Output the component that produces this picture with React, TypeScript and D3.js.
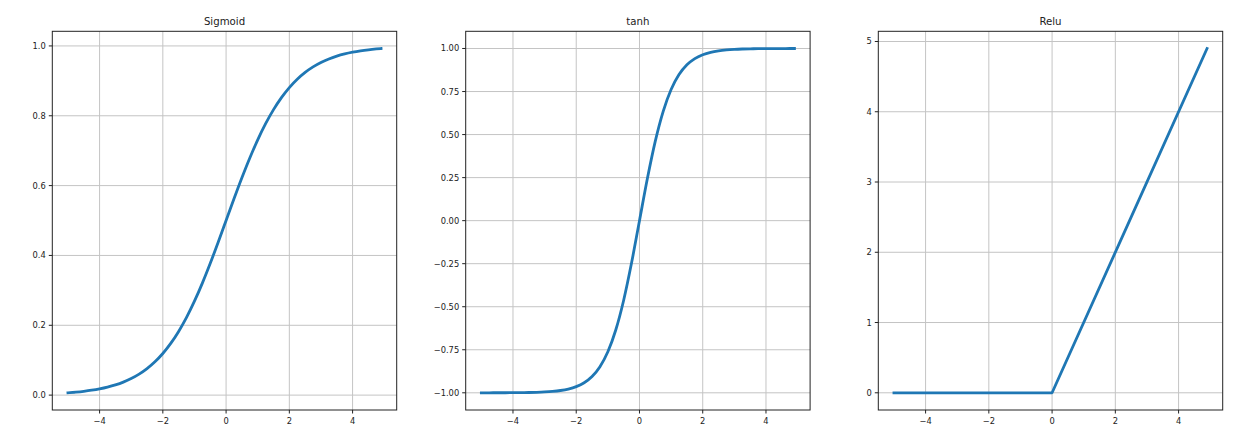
import React from "react";
import * as d3 from "d3";

const xGrid = [
  -5, -4.75, -4.5, -4.25, -4, -3.75, -3.5, -3.25, -3, -2.75, -2.5, -2.25, -2, -1.75, -1.5, -1.25, -1, -0.75, -0.5, -0.25,
  0, 0.25, 0.5, 0.75, 1, 1.25, 1.5, 1.75, 2, 2.25, 2.5, 2.75, 3, 3.25, 3.5, 3.75, 4, 4.25, 4.5, 4.75, 4.9,
];

const sigmoidValues = [
  0.00669, 0.00858, 0.01099, 0.01406, 0.01799, 0.02298, 0.02931, 0.03732, 0.04743, 0.06009, 0.07586, 0.09535, 0.1192,
  0.14805, 0.18243, 0.2227, 0.26894, 0.32082, 0.37754, 0.43782, 0.5, 0.56218, 0.62246, 0.67918, 0.73106, 0.7773,
  0.81757, 0.85195, 0.8808, 0.90465, 0.92414, 0.93991, 0.95257, 0.96268, 0.97069, 0.97702, 0.98201, 0.98594, 0.98901,
  0.99142, 0.99261,
];

const tanhValues = [
  -0.99991, -0.99985, -0.99975, -0.99959, -0.99933, -0.99889, -0.99818, -0.997, -0.99505, -0.99186, -0.98661, -0.97803,
  -0.96403, -0.94138, -0.90515, -0.84828, -0.76159, -0.63515, -0.46212, -0.24492, 0, 0.24492, 0.46212, 0.63515, 0.76159,
  0.84828, 0.90515, 0.94138, 0.96403, 0.97803, 0.98661, 0.99186, 0.99505, 0.997, 0.99818, 0.99889, 0.99933, 0.99959,
  0.99975, 0.99985, 0.99989,
];

const reluX = [-5, -2.5, 0, 2.5, 4.9];
const reluValues = [0, 0, 0, 2.5, 4.9];

const xTicks = [-4, -2, 0, 2, 4];
const sigmoidTicks = [0, 0.2, 0.4, 0.6, 0.8, 1.0];
const tanhTicks = [-1, -0.75, -0.5, -0.25, 0, 0.25, 0.5, 0.75, 1];
const reluTicks = [0, 1, 2, 3, 4, 5];

const titles = ["Sigmoid", "tanh", "Relu"];

const minus = (s: string) => s.replace(/-/g, "\u2212");

type PanelProps = {
  left: number;
  title: string;
  xs: number[];
  ys: number[];
  yTicks: number[];
  fmt: (v: number) => string;
  smooth: boolean;
};

const TOP = 31.3;
const BOTTOM = 410;
const WIDTH = 344.4;

function Panel({ left, title, xs, ys, yTicks, fmt, smooth }: PanelProps) {
  const xMin = d3.min(xs)!;
  const xMax = d3.max(xs)!;
  const yMin = d3.min(ys)!;
  const yMax = d3.max(ys)!;
  const xm = (xMax - xMin) * 0.05;
  const ym = (yMax - yMin) * 0.05;
  const x = d3.scaleLinear().domain([xMin - xm, xMax + xm]).range([left, left + WIDTH]);
  const y = d3.scaleLinear().domain([yMin - ym, yMax + ym]).range([BOTTOM, TOP]);
  const pts = xs.map((v, i) => [v, ys[i]] as [number, number]);
  const line = d3
    .line<[number, number]>()
    .x((d) => x(d[0]))
    .y((d) => y(d[1]))
    .curve(smooth ? d3.curveMonotoneX : d3.curveLinear);
  const font = "DejaVu Sans, sans-serif";
  return (
    <g>
      {xTicks.map((t) => (
        <line key={"gx" + t} x1={x(t)} x2={x(t)} y1={TOP} y2={BOTTOM} stroke="#c4c4c4" strokeWidth={1} />
      ))}
      {yTicks.map((t) => (
        <line key={"gy" + t} x1={left} x2={left + WIDTH} y1={y(t)} y2={y(t)} stroke="#c4c4c4" strokeWidth={1} />
      ))}
      <path d={line(pts)!} fill="none" stroke="#1f77b4" strokeWidth={2.8} strokeLinejoin="round" strokeLinecap="square" />
      <rect x={left} y={TOP} width={WIDTH} height={BOTTOM - TOP} fill="none" stroke="#222" strokeWidth={1} />
      {xTicks.map((t) => (
        <g key={"tx" + t}>
          <line x1={x(t)} x2={x(t)} y1={BOTTOM} y2={BOTTOM + 3.5} stroke="#222" strokeWidth={1} />
          <text x={x(t)} y={BOTTOM + 13.5} fontSize={8.3} fontFamily={font} textAnchor="middle" fill="#222">
            {minus(String(t))}
          </text>
        </g>
      ))}
      {yTicks.map((t) => (
        <g key={"ty" + t}>
          <line x1={left - 3.5} x2={left} y1={y(t)} y2={y(t)} stroke="#222" strokeWidth={1} />
          <text x={left - 6.5} y={y(t) + 3} fontSize={8.3} fontFamily={font} textAnchor="end" fill="#222">
            {minus(fmt(t))}
          </text>
        </g>
      ))}
      <text x={left + WIDTH / 2} y={25} fontSize={10.2} fontFamily={font} textAnchor="middle" fill="#222">
        {title}
      </text>
    </g>
  );
}

export default function App() {
  return (
    <svg
      width={1239}
      height={438}
      style={{ position: "absolute", left: 0, top: 0, background: "#fff" }}
    >
      <rect x={0} y={0} width={1239} height={438} fill="#fff" />
      <Panel left={52.3} title={titles[0]} xs={xGrid} ys={sigmoidValues} yTicks={sigmoidTicks} fmt={d3.format(".1f")} smooth />
      <Panel left={465.7} title={titles[1]} xs={xGrid} ys={tanhValues} yTicks={tanhTicks} fmt={d3.format(".2f")} smooth />
      <Panel left={878.3} title={titles[2]} xs={reluX} ys={reluValues} yTicks={reluTicks} fmt={d3.format("d")} smooth={false} />
    </svg>
  );
}
